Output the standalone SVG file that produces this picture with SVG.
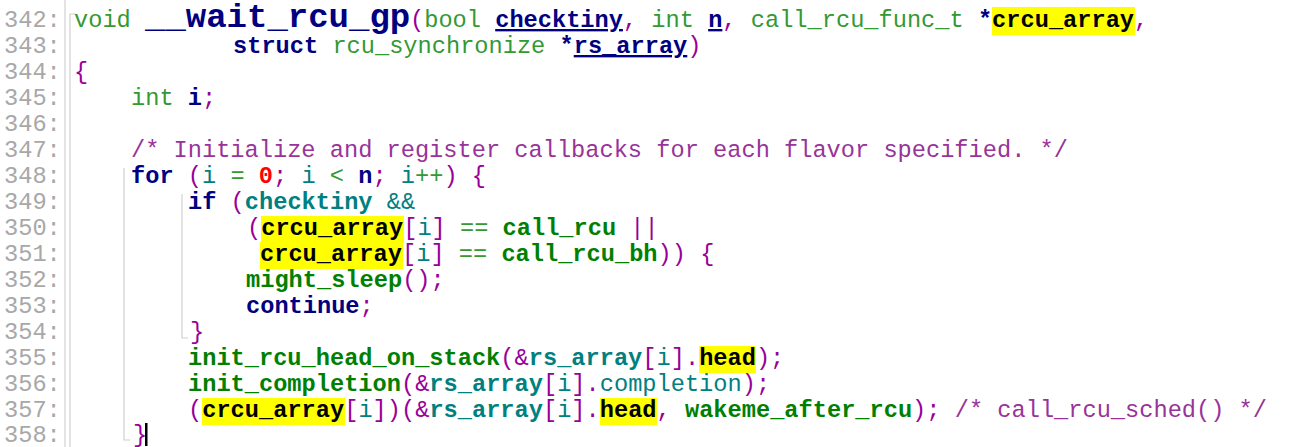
<svg xmlns="http://www.w3.org/2000/svg" width="1290" height="447" viewBox="0 0 1290 447">
<style>
text{font-family:"Liberation Mono","Courier New",monospace;font-size:23.67px;white-space:pre}
.ln{fill:#a8a8a8}
.kw{fill:#339933}
.id{fill:#000080;font-weight:bold}
.fn{fill:#008000;font-weight:bold}
.tl{fill:#008080;font-weight:bold}
.tr{fill:#008080}
.p{fill:#990099}
.op{fill:#339933}
.cm{fill:#993399}
.hl{fill:#000;font-weight:bold}
.u{text-decoration:underline}
.g{stroke:#d0d0d0;stroke-width:1.2;fill:none}
</style>
<rect width="1290" height="447" fill="#fff"/>
<g id="guides">
<path class="g" d="M65 0V447"/>
<path class="g" d="M76 14H70V447"/>
<path class="g" d="M124 168V440H130"/>
<path class="g" d="M182 194V338H188"/>
</g>
<g id="highlights" fill="#ffff00">
<rect x="992" y="7" width="143" height="28"/>
<rect x="261" y="216" width="143" height="27"/>
<rect x="260" y="242" width="143" height="27"/>
<rect x="699" y="346" width="57" height="27"/>
<rect x="202" y="398" width="143" height="27"/>
<rect x="600" y="398" width="57" height="27"/>
</g>
<g id="linenums">
<text class="ln" x="4" y="27">342:</text>
<text class="ln" x="4" y="53">343:</text>
<text class="ln" x="4" y="79">344:</text>
<text class="ln" x="4" y="105">345:</text>
<text class="ln" x="4" y="131">346:</text>
<text class="ln" x="4" y="157">347:</text>
<text class="ln" x="4" y="183">348:</text>
<text class="ln" x="4" y="209">349:</text>
<text class="ln" x="4" y="235">350:</text>
<text class="ln" x="4" y="261">351:</text>
<text class="ln" x="4" y="287">352:</text>
<text class="ln" x="4" y="313">353:</text>
<text class="ln" x="4" y="339">354:</text>
<text class="ln" x="4" y="365">355:</text>
<text class="ln" x="4" y="391">356:</text>
<text class="ln" x="4" y="417">357:</text>
<text class="ln" x="4" y="442">358:</text>
</g>
<g id="code">
<text x="74" y="27"><tspan class="kw">void </tspan><tspan class="id" style="font-size:34px">__wait_rcu_gp</tspan></text>
<text x="410" y="27"><tspan class="p">(</tspan><tspan class="kw">bool </tspan><tspan class="id u">checktiny</tspan><tspan class="p">, </tspan><tspan class="kw">int </tspan><tspan class="id u">n</tspan><tspan class="p">, </tspan><tspan class="kw">call_rcu_func_t </tspan><tspan class="id">*</tspan><tspan class="hl">crcu_array</tspan><tspan class="p">,</tspan></text>
<text x="233" y="53"><tspan class="id">struct </tspan><tspan class="kw">rcu_synchronize </tspan><tspan class="id">*</tspan><tspan class="id u">rs_array</tspan><tspan class="p">)</tspan></text>
<text x="74" y="79" class="p">{</text>
<text x="131" y="105"><tspan class="kw">int </tspan><tspan class="id">i</tspan><tspan class="p">;</tspan></text>
<text x="131" y="157" class="cm">/* Initialize and register callbacks for each flavor specified. */</text>
<text x="131" y="183"><tspan class="id">for </tspan><tspan class="p">(</tspan><tspan class="tr">i </tspan><tspan class="op">= </tspan><tspan style="fill:#ff0000;font-weight:bold">0</tspan><tspan class="p">; </tspan><tspan class="tr">i </tspan><tspan class="op">&lt; </tspan><tspan class="id">n</tspan><tspan class="p">; </tspan><tspan class="tr">i</tspan><tspan class="op">++</tspan><tspan class="p">) {</tspan></text>
<text x="188" y="209"><tspan class="id">if </tspan><tspan class="p">(</tspan><tspan class="tl">checktiny </tspan><tspan class="tr">&amp;&amp;</tspan></text>
<text x="247" y="235"><tspan class="p">(</tspan><tspan class="hl">crcu_array</tspan><tspan class="p">[</tspan><tspan class="tr">i</tspan><tspan class="p">] </tspan><tspan class="op">== </tspan><tspan class="fn">call_rcu </tspan><tspan class="p">||</tspan></text>
<text x="260" y="261"><tspan class="hl">crcu_array</tspan><tspan class="p">[</tspan><tspan class="tr">i</tspan><tspan class="p">] </tspan><tspan class="op">== </tspan><tspan class="fn">call_rcu_bh</tspan><tspan class="p">)) {</tspan></text>
<text x="246" y="287"><tspan class="fn">might_sleep</tspan><tspan class="p">();</tspan></text>
<text x="246" y="313"><tspan class="id">continue</tspan><tspan class="p">;</tspan></text>
<text x="190" y="339" class="p">}</text>
<text x="188" y="365"><tspan class="fn">init_rcu_head_on_stack</tspan><tspan class="p">(&amp;</tspan><tspan class="tl">rs_array</tspan><tspan class="p">[</tspan><tspan class="tr">i</tspan><tspan class="p">].</tspan><tspan class="hl">head</tspan><tspan class="p">);</tspan></text>
<text x="188" y="391"><tspan class="fn">init_completion</tspan><tspan class="p">(&amp;</tspan><tspan class="tl">rs_array</tspan><tspan class="p">[</tspan><tspan class="tr">i</tspan><tspan class="p">].</tspan><tspan class="tr">completion</tspan><tspan class="p">);</tspan></text>
<text x="188" y="417"><tspan class="p">(</tspan><tspan class="hl">crcu_array</tspan><tspan class="p">[</tspan><tspan class="tr">i</tspan><tspan class="p">])(&amp;</tspan><tspan class="tl">rs_array</tspan><tspan class="p">[</tspan><tspan class="tr">i</tspan><tspan class="p">].</tspan><tspan class="hl">head</tspan><tspan class="p">, </tspan><tspan class="fn">wakeme_after_rcu</tspan><tspan class="p">); </tspan><tspan class="cm">/* call_rcu_sched() */</tspan></text>
<text x="133" y="442" class="p">}</text>
</g>
<rect id="cursor" x="145" y="423" width="2.5" height="23" fill="#000"/>
</svg>
